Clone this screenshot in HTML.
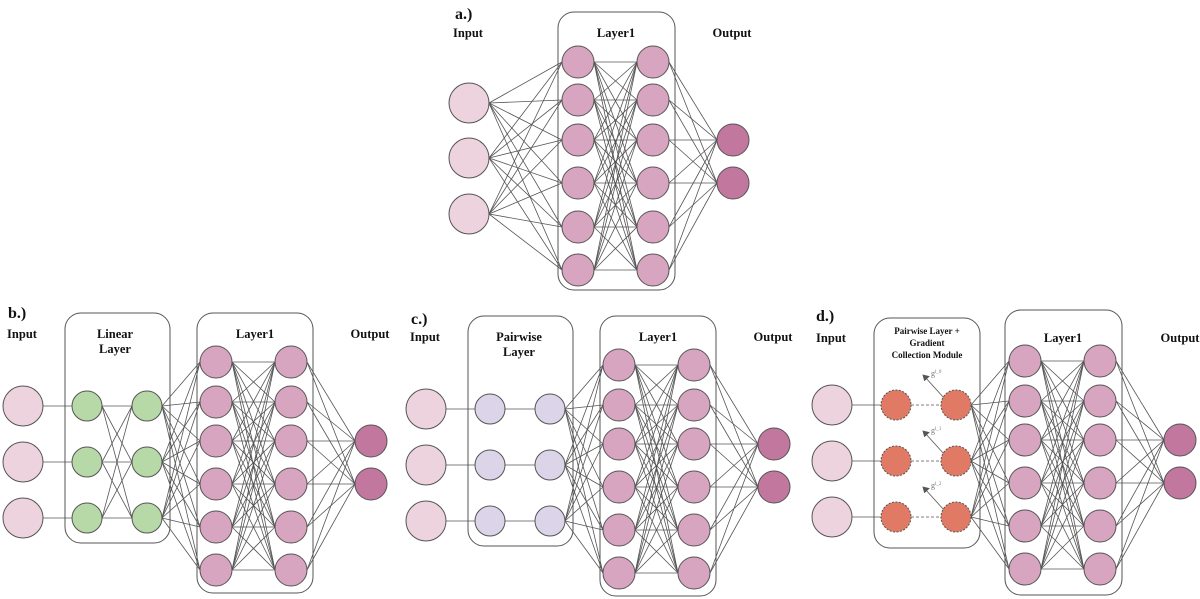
<!DOCTYPE html>
<html><head><meta charset="utf-8"><style>
html,body{margin:0;padding:0;background:#fff;}
svg{display:block}
text{font-family:"Liberation Serif",serif;font-weight:bold;fill:#111;text-anchor:middle}
</style></head><body>
<svg id="s" width="1200" height="599" viewBox="0 0 1200 599" xmlns="http://www.w3.org/2000/svg">
<g id="lines" stroke="#555" stroke-width="0.8" fill="none"></g>
<g id="boxes" stroke="#555" stroke-width="1" fill="none">
<rect x="558" y="12" width="117" height="278" rx="16"/>
<rect x="65" y="313" width="105" height="230" rx="16"/>
<rect x="197" y="313" width="116" height="280" rx="16"/>
<rect x="468" y="316" width="105" height="230" rx="16"/>
<rect x="600" y="316" width="116" height="280" rx="16"/>
<rect x="874" y="318" width="106" height="230" rx="16"/>
<rect x="1005" y="310" width="117" height="285" rx="16"/>
</g>
<g id="circles" stroke="#555" stroke-width="1"></g>
<text x="455" y="19" font-size="16" style="text-anchor:start">a.)</text>
<text x="468" y="37" font-size="12.5">Input</text>
<text x="616" y="37" font-size="12.5">Layer1</text>
<text x="732" y="37" font-size="12.5">Output</text>
<text x="8" y="318" font-size="16" style="text-anchor:start">b.)</text>
<text x="22" y="338" font-size="12.5">Input</text>
<text x="115" y="338" font-size="12.5">Linear</text>
<text x="115" y="353" font-size="12.5">Layer</text>
<text x="255" y="338" font-size="12.5">Layer1</text>
<text x="370" y="338" font-size="12.5">Output</text>
<text x="411" y="324" font-size="16" style="text-anchor:start">c.)</text>
<text x="425" y="341" font-size="12.5">Input</text>
<text x="519" y="341" font-size="12.5">Pairwise</text>
<text x="519" y="356" font-size="12.5">Layer</text>
<text x="658" y="341" font-size="12.5">Layer1</text>
<text x="773" y="341" font-size="12.5">Output</text>
<text x="816" y="321" font-size="16" style="text-anchor:start">d.)</text>
<text x="831" y="342" font-size="12.5">Input</text>
<text x="927" y="334" font-size="9">Pairwise Layer +</text>
<text x="927" y="346" font-size="9">Gradient</text>
<text x="927" y="358" font-size="9">Collection Module</text>
<text x="1063" y="342" font-size="12.5">Layer1</text>
<text x="1180" y="342" font-size="12.5">Output</text>
<text x="931" y="376" font-size="8" style="font-weight:normal;fill:#777;text-anchor:start">g<tspan font-size="5" dy="-3">l_0</tspan></text>
<text x="931" y="433" font-size="8" style="font-weight:normal;fill:#777;text-anchor:start">g<tspan font-size="5" dy="-3">l_1</tspan></text>
<text x="931" y="488" font-size="8" style="font-weight:normal;fill:#777;text-anchor:start">g<tspan font-size="5" dy="-3">l_2</tspan></text>
</svg>
<script>
var NS="http://www.w3.org/2000/svg";
var L=document.getElementById('lines'),C=document.getElementById('circles');
function ln(x1,y1,x2,y2,dash){var e=document.createElementNS(NS,'line');e.setAttribute('x1',x1);e.setAttribute('y1',y1);e.setAttribute('x2',x2);e.setAttribute('y2',y2);if(dash)e.setAttribute('stroke-dasharray','3,2');L.appendChild(e);}
function ci(x,y,r,f,dash){var e=document.createElementNS(NS,'circle');e.setAttribute('cx',x);e.setAttribute('cy',y);e.setAttribute('r',r);e.setAttribute('fill',f);if(dash)e.setAttribute('stroke-dasharray','2,1.5');C.appendChild(e);}
function full(x1,ys1,r1,x2,ys2,r2){ys1.forEach(function(a){ys2.forEach(function(b){ln(x1+r1,a,x2-r2,b);});});}
var IN="#ecd3de",LY="#d8a5c0",OUT="#c2779e";
var ai=[103,158,214],al=[62,100,140,183,227,270],ao=[140,183];
full(469,ai,20,578,al,16);full(578,al,16,653,al,16);full(653,al,16,733,ao,16);
ai.forEach(function(y){ci(469,y,20,IN);});
al.forEach(function(y){ci(578,y,16,LY);ci(653,y,16,LY);});
ao.forEach(function(y){ci(733,y,16,OUT);});
var pin=[406,462,518],pl=[362,402,441,484,527,570],po=[441,484];
[[0,0,"#b7d9a8","full"],[403,3,"#dcd5ea","straight"],[809,-1,"#e07a65","dash"]].forEach(function(p){
 var o=p[0],dy=p[1],col=p[2],m=p[3];
 var yi=pin.map(function(y){return y+dy;}),yl=pl.map(function(y){return y+dy;}),yo=po.map(function(y){return y+dy;});
 var xi=23+o,x1=87+o,x2=147+o,xl1=216+o,xl2=291+o,xo=371+o;
 yi.forEach(function(y){ln(xi+20,y,x1-15,y);});
 if(m=="full")full(x1,yi,15,x2,yi,15);
 else yi.forEach(function(y){ln(x1+15,y,x2-15,y,m=="dash");});
 full(x2,yi,15,xl1,yl,16);full(xl1,yl,16,xl2,yl,16);full(xl2,yl,16,xo,yo,16);
 if(m=="dash"){yi.forEach(function(y){
   ln(x2-12,y-7,x2-31,y-28);
   var a=document.createElementNS(NS,'path');a.setAttribute('d','M'+(x2-33)+' '+(y-30)+' l6 1.5 l-4.5 4 z');a.setAttribute('fill','#555');L.appendChild(a);
 });}
 yi.forEach(function(y){ci(xi,y,20,IN);ci(x1,y,15,col,m=="dash");ci(x2,y,15,col,m=="dash");});
 yl.forEach(function(y){ci(xl1,y,16,LY);ci(xl2,y,16,LY);});
 yo.forEach(function(y){ci(xo,y,16,OUT);});
});
</script>
</body></html>
